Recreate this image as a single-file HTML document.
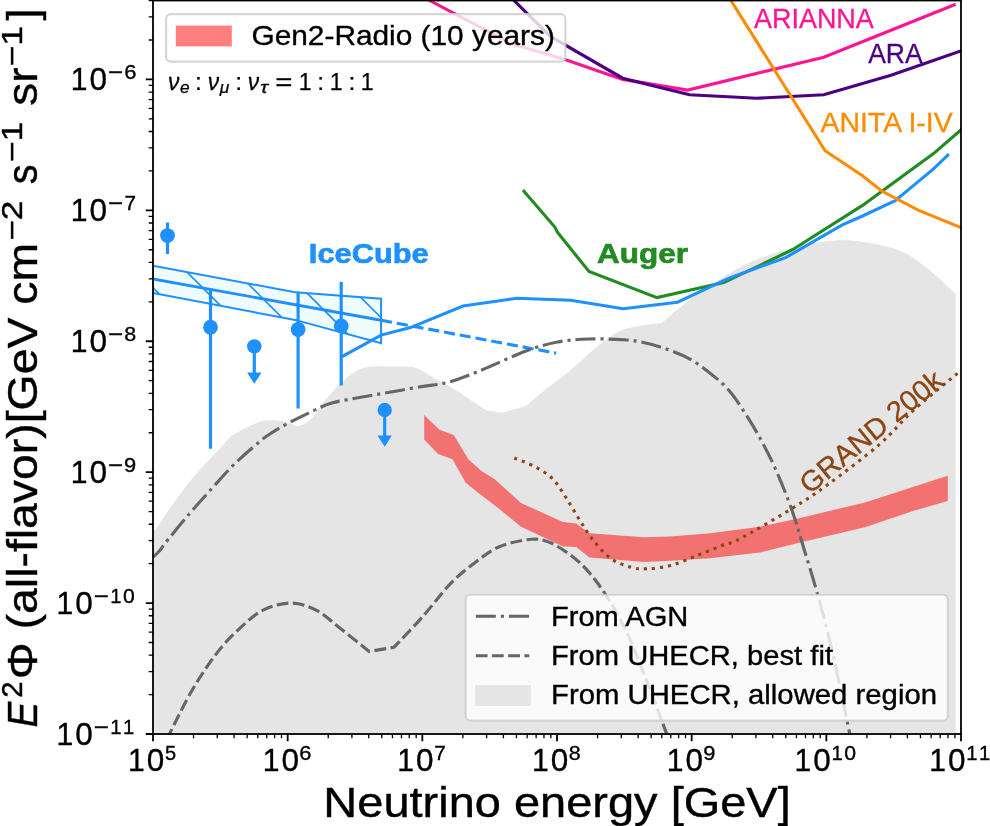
<!DOCTYPE html><html><head><meta charset="utf-8"><style>html,body{margin:0;padding:0;background:#fff;}svg{display:block;will-change:transform;} svg text{font-family:"Liberation Sans",sans-serif;}</style></head><body>
<svg width="990" height="826" viewBox="0 0 990 826" font-family="Liberation Sans, sans-serif">
<rect width="990" height="826" fill="#fff"/>
<defs><clipPath id="ax"><rect x="153.0" y="0.5" width="808.0" height="733.5"/></clipPath></defs>
<g clip-path="url(#ax)">
<path d="M153.0,533.0C154.6,530.8 159.2,524.1 162.4,519.5C165.6,514.9 166.9,512.5 172.2,505.3C177.5,498.1 186.4,485.4 194.0,476.3C201.6,467.2 210.9,457.9 217.6,450.9C224.3,443.9 227.0,439.4 234.0,434.5C241.0,429.6 253.2,424.2 259.4,421.8C265.6,419.4 267.0,420.4 271.0,420.3C275.0,420.2 278.8,420.5 283.3,421.5C287.8,422.5 295.7,425.7 298.2,426.5C300.3,425.2 306.4,423.5 311.0,419.0C315.6,414.5 319.5,406.7 325.8,399.5C332.1,392.3 341.9,381.4 349.0,376.0C356.1,370.6 359.9,368.7 368.2,367.1C376.4,365.5 390.6,366.5 398.5,366.6C406.4,366.8 410.3,366.4 415.8,368.0C421.3,369.6 425.4,373.1 431.5,376.5C437.6,379.9 443.3,382.6 452.5,388.3C461.7,394.0 481.0,406.9 486.7,410.6C489.3,411.0 499.8,412.4 502.4,412.7C506.3,411.6 522.1,407.2 526.0,406.1C529.5,403.1 539.5,394.3 547.0,388.3C554.5,382.3 562.8,376.5 570.7,369.9C578.6,363.3 586.4,355.2 594.3,348.9C602.2,342.6 611.0,335.7 618.0,332.0C625.0,328.3 631.0,327.9 636.3,326.6C641.6,325.4 645.7,325.1 650.0,324.5C654.3,323.9 660.0,323.1 662.0,322.8C665.7,319.6 674.8,311.0 684.3,303.9C693.8,296.8 707.2,287.0 718.7,279.9C730.2,272.8 740.4,266.4 753.0,261.0C765.6,255.6 781.6,250.6 794.2,247.3C806.8,244.0 818.3,242.1 828.6,241.1C838.9,240.1 844.5,239.7 856.0,241.1C867.5,242.5 885.8,245.5 897.3,249.7C908.8,253.9 915.0,258.9 924.7,266.2C934.4,273.5 950.5,289.0 955.6,293.6L955.6,740L150,740L150,534Z" fill="#e5e5e5"/>
<clipPath id="bandclip"><polygon points="153.0,265.8 295.0,292.2 381.1,298.8 381.1,343.1 295.0,319.9 153.0,293.1"/></clipPath>
<polygon points="153.0,265.8 295.0,292.2 381.1,298.8 381.1,343.1 295.0,319.9 153.0,293.1" fill="#effdff" stroke="none"/>
<path d="M65.8,250L175.8,360 M115.3,250L225.3,360 M164.9,250L274.9,360 M214.4,250L324.4,360 M263.9,250L373.9,360 M313.4,250L423.4,360 M362.9,250L472.9,360" stroke="#1e90ff" stroke-width="1.7" fill="none" clip-path="url(#bandclip)"/>
<polygon points="153.0,265.8 295.0,292.2 381.1,298.8 381.1,343.1 295.0,319.9 153.0,293.1" fill="none" stroke="#1e90ff" stroke-width="2" stroke-linejoin="miter"/>
<polyline points="150.0,278.5 381.1,320.2" fill="none" stroke="#1e90ff" stroke-width="2.9"/>
<polyline points="381.1,320.2 556.2,353.2" fill="none" stroke="#1e90ff" stroke-width="3.1" stroke-dasharray="11.1,4.9"/>
<polygon points="424.2,415.1 439.4,429.8 453.8,435.0 468.3,459.2 481.4,471.0 494.5,478.9 521.0,503.0 563.0,521.9 576.2,523.5 589.3,533.2 644.4,537.2 670.7,536.6 710.0,533.2 760.0,526.7 798.1,518.4 865.0,502.4 914.4,486.5 947.8,475.7 947.8,501.0 914.4,510.6 865.0,527.2 798.1,543.1 760.0,552.4 710.0,558.2 670.7,560.8 644.4,562.1 589.3,557.6 576.2,547.1 563.0,546.4 521.0,526.7 500.0,509.6 478.8,493.3 465.7,482.8 452.5,459.2 438.0,453.9 424.2,439.5" fill="#ff0000" fill-opacity="0.5"/>
<path d="M150.0,560.3C150.5,559.8 151.6,558.7 153.2,557.1C154.8,555.5 156.9,553.7 159.5,550.7C162.1,547.7 163.4,545.2 168.6,538.9C173.8,532.5 183.1,521.1 190.4,512.6C197.7,504.1 204.9,496.1 212.2,488.1C219.5,480.1 226.1,472.2 234.0,464.5C241.9,456.8 253.2,447.0 259.4,441.8C265.6,436.6 266.5,436.2 271.0,433.3C275.5,430.4 279.3,428.0 286.4,424.2C293.5,420.4 306.0,414.1 313.6,410.6C321.2,407.1 323.7,405.3 331.8,403.0C339.9,400.7 351.9,398.9 362.0,397.0C372.1,395.1 382.3,393.6 392.4,391.8C402.5,390.0 413.5,387.9 422.7,386.4C431.9,384.8 437.9,385.0 447.3,382.5C456.7,380.0 465.7,376.4 478.8,371.2C491.9,365.9 512.9,355.9 526.0,351.0C539.1,346.1 547.1,344.0 557.6,342.0C568.1,340.0 578.1,339.4 589.0,339.0C599.9,338.6 614.7,339.2 623.2,339.7C631.7,340.2 633.2,340.4 640.0,341.8C646.8,343.2 655.8,345.4 664.2,348.3C672.6,351.2 681.7,354.3 690.5,359.4C699.3,364.4 710.1,373.1 716.8,378.6C723.5,384.2 726.9,388.0 730.9,392.7C734.9,397.4 736.6,400.2 741.0,406.9C745.4,413.6 751.6,423.0 757.2,433.1C762.9,443.2 769.0,454.6 774.9,467.6C780.8,480.6 787.4,497.6 792.3,511.2C797.1,524.8 800.0,535.8 804.0,549.0C808.0,562.2 811.8,573.8 816.4,590.3C821.0,606.8 825.7,622.9 831.5,647.9C837.3,672.9 847.8,724.6 851.0,740.0" fill="none" stroke="#666" stroke-width="3.14" stroke-dasharray="20.1,4.95,3.14,4.95" stroke-linejoin="round"/>
<path d="M167.0,738.0C167.4,737.3 165.2,742.0 169.4,734.0C173.6,726.0 184.4,703.3 192.4,689.7C200.4,676.1 209.5,662.6 217.2,652.6C224.9,642.6 230.8,636.7 238.4,629.6C246.1,622.5 254.3,614.5 263.1,610.1C271.9,605.7 282.6,603.1 291.4,603.1C300.2,603.1 308.5,606.3 316.1,610.1C323.8,613.9 328.5,619.1 337.3,626.0C346.1,632.9 363.9,647.2 369.2,651.5C373.3,650.8 389.8,648.0 393.9,647.3C398.6,642.3 412.8,627.8 422.2,617.2C431.6,606.6 441.7,592.7 450.5,583.6C459.3,574.5 466.9,568.6 475.2,562.4C483.4,556.2 490.6,550.4 500.0,546.5C509.4,542.6 522.8,539.8 531.5,539.3C540.2,538.8 544.4,539.8 552.5,543.7C560.6,547.7 571.7,555.3 580.0,563.0C588.3,570.7 594.9,578.9 602.5,590.0C610.1,601.1 618.1,614.5 625.5,629.7C632.9,644.9 639.5,662.8 646.7,681.2C654.0,699.6 665.3,730.2 669.0,740.0" fill="none" stroke="#666" stroke-width="3.14" stroke-dasharray="11.8,4.4" stroke-linejoin="round"/>
<path d="M514.3,458.0C517.6,459.4 527.8,462.9 534.1,466.3C540.5,469.7 547.1,473.4 552.4,478.5C557.6,483.6 561.2,490.3 565.6,497.0C570.0,503.7 574.3,511.6 578.7,518.5C583.1,525.4 586.6,531.9 591.9,538.5C597.2,545.1 603.7,553.4 610.3,558.2C616.9,563.0 625.2,565.6 631.3,567.4C637.4,569.1 640.5,569.0 647.1,568.7C653.7,568.4 662.4,567.7 670.7,565.5C679.0,563.3 688.2,558.9 697.0,555.5C705.8,552.1 716.0,547.8 723.2,545.0C730.4,542.2 728.5,544.9 740.0,538.8C751.5,532.7 777.8,517.3 792.3,508.3C806.8,499.3 812.7,495.7 827.2,485.0C841.7,474.3 865.0,456.9 879.5,444.3C894.0,431.7 900.8,421.7 914.4,409.4C928.0,397.1 953.2,377.0 961.0,370.5" fill="none" stroke="#8b4513" stroke-width="3.1" stroke-dasharray="3.1,5.0"/>
<polyline points="522.9,190.0 555.0,227.3 557.6,232.5 589.0,271.4 657.0,297.6 723.8,282.6 792.5,249.7 862.5,205.4 933.5,153.6 962.0,129.0" fill="none" stroke="#228b22" stroke-width="3.1"/>
<polyline points="341.1,357.2 381.1,335.1 410.5,327.6 463.0,306.0 516.9,298.2 570.7,300.3 623.2,308.7 677.5,302.2 729.0,278.2 785.6,257.6 842.3,224.9 862.5,216.0 895.2,200.6 933.5,168.9 948.9,154.2" fill="none" stroke="#1e90ff" stroke-width="3.1"/>
<polyline points="426.8,-1.0 511.5,43.7 565.0,59.5 622.7,79.4 687.7,90.1 823.8,57.3 955.7,4.2" fill="none" stroke="#ff1493" stroke-width="3.1"/>
<polyline points="512.5,-1.0 550.3,36.4 622.7,78.2 689.5,94.7 756.6,98.3 823.8,94.7 891.0,75.3 962.0,50.6" fill="none" stroke="#4b0082" stroke-width="3.1"/>
<polyline points="730.0,-1.0 825.1,150.7 862.5,175.7 881.7,191.0 918.2,210.2 962.0,228.0" fill="none" stroke="#ff8c00" stroke-width="3.1"/>
<line x1="167.5" y1="222.4" x2="167.5" y2="253.9" stroke="#1e90ff" stroke-width="3.2"/>
<circle cx="167.5" cy="235.6" r="7.4" fill="#1e90ff"/>
<line x1="210.5" y1="290.3" x2="210.5" y2="448.8" stroke="#1e90ff" stroke-width="3.2"/>
<circle cx="210.5" cy="327.2" r="7.4" fill="#1e90ff"/>
<line x1="298.1" y1="291.6" x2="298.1" y2="408.5" stroke="#1e90ff" stroke-width="3.2"/>
<circle cx="298.1" cy="329.5" r="7.4" fill="#1e90ff"/>
<line x1="341.2" y1="282" x2="341.2" y2="385.6" stroke="#1e90ff" stroke-width="3.2"/>
<circle cx="341.2" cy="325.9" r="7.4" fill="#1e90ff"/>
<line x1="254.3" y1="346.4" x2="254.3" y2="375.7" stroke="#1e90ff" stroke-width="3.2"/>
<circle cx="254.3" cy="346.4" r="7.2" fill="#1e90ff"/>
<polygon points="247.10000000000002,372.4 261.5,372.4 254.3,383.7" fill="#1e90ff"/>
<line x1="384.7" y1="410" x2="384.7" y2="438.7" stroke="#1e90ff" stroke-width="3.2"/>
<circle cx="384.7" cy="410" r="7.2" fill="#1e90ff"/>
<polygon points="377.5,435.4 391.9,435.4 384.7,446.7" fill="#1e90ff"/>
</g>
<rect x="166.1" y="14.1" width="399.3" height="47.5" rx="4.5" fill="#fff" fill-opacity="0.8" stroke="#cccccc" stroke-opacity="0.8" stroke-width="2.1"/>
<rect x="175.8" y="25.6" width="56" height="20.8" fill="#ff0000" fill-opacity="0.5"/>
<rect x="465.7" y="594.7" width="482.1" height="125.9" rx="4.5" fill="#fff" fill-opacity="0.8" stroke="#cccccc" stroke-opacity="0.8" stroke-width="2.1"/>
<line x1="475.8" y1="616.3" x2="529.3" y2="616.3" stroke="#666" stroke-width="3.14" stroke-dasharray="20.1,4.95,3.14,4.95"/>
<line x1="475.8" y1="655.7" x2="529.3" y2="655.7" stroke="#666" stroke-width="3.14" stroke-dasharray="11.8,4.4"/>
<rect x="475.2" y="685.2" width="55.6" height="20.8" fill="#e5e5e5"/>
<path d="M153.00,734.0V741.2M287.67,734.0V741.2M422.33,734.0V741.2M557.00,734.0V741.2M691.67,734.0V741.2M826.33,734.0V741.2M961.00,734.0V741.2M153.0,734.00H145.8M153.0,603.08H145.8M153.0,472.16H145.8M153.0,341.24H145.8M153.0,210.32H145.8M153.0,79.40H145.8" stroke="#000" stroke-width="1.8"/>
<path d="M193.54,734.0V738.3M217.25,734.0V738.3M234.08,734.0V738.3M247.13,734.0V738.3M257.79,734.0V738.3M266.81,734.0V738.3M274.62,734.0V738.3M281.50,734.0V738.3M328.21,734.0V738.3M351.92,734.0V738.3M368.74,734.0V738.3M381.79,734.0V738.3M392.46,734.0V738.3M401.47,734.0V738.3M409.28,734.0V738.3M416.17,734.0V738.3M462.87,734.0V738.3M486.59,734.0V738.3M503.41,734.0V738.3M516.46,734.0V738.3M527.12,734.0V738.3M536.14,734.0V738.3M543.95,734.0V738.3M550.84,734.0V738.3M597.54,734.0V738.3M621.25,734.0V738.3M638.08,734.0V738.3M651.13,734.0V738.3M661.79,734.0V738.3M670.81,734.0V738.3M678.62,734.0V738.3M685.50,734.0V738.3M732.21,734.0V738.3M755.92,734.0V738.3M772.74,734.0V738.3M785.79,734.0V738.3M796.46,734.0V738.3M805.47,734.0V738.3M813.28,734.0V738.3M820.17,734.0V738.3M866.87,734.0V738.3M890.59,734.0V738.3M907.41,734.0V738.3M920.46,734.0V738.3M931.12,734.0V738.3M940.14,734.0V738.3M947.95,734.0V738.3M954.84,734.0V738.3M153.0,694.59H148.7M153.0,671.54H148.7M153.0,655.18H148.7M153.0,642.49H148.7M153.0,632.12H148.7M153.0,623.36H148.7M153.0,615.77H148.7M153.0,609.07H148.7M153.0,563.67H148.7M153.0,540.62H148.7M153.0,524.26H148.7M153.0,511.57H148.7M153.0,501.20H148.7M153.0,492.44H148.7M153.0,484.85H148.7M153.0,478.15H148.7M153.0,432.75H148.7M153.0,409.70H148.7M153.0,393.34H148.7M153.0,380.65H148.7M153.0,370.28H148.7M153.0,361.52H148.7M153.0,353.93H148.7M153.0,347.23H148.7M153.0,301.83H148.7M153.0,278.78H148.7M153.0,262.42H148.7M153.0,249.73H148.7M153.0,239.36H148.7M153.0,230.60H148.7M153.0,223.01H148.7M153.0,216.31H148.7M153.0,170.91H148.7M153.0,147.86H148.7M153.0,131.50H148.7M153.0,118.81H148.7M153.0,108.44H148.7M153.0,99.68H148.7M153.0,92.09H148.7M153.0,85.39H148.7M153.0,39.99H148.7M153.0,16.94H148.7M153.0,0.58H148.7" stroke="#000" stroke-width="1.3"/>
<rect x="153.0" y="0.5" width="808.0" height="733.5" fill="none" stroke="#000" stroke-width="1.8"/>
<text transform="translate(128.02,770.70) scale(0.9767,1)" font-size="30.82" fill="#000" stroke="#000" stroke-width="0.35">1</text>
<text transform="translate(146.76,770.70) scale(1.0226,1)" font-size="30.82" fill="#000" stroke="#000" stroke-width="0.35">0</text>
<text transform="translate(165.04,759.90) scale(0.9651,1)" font-size="20.71" fill="#000" stroke="#000" stroke-width="0.35">5</text>
<text transform="translate(262.69,770.70) scale(0.9767,1)" font-size="30.82" fill="#000" stroke="#000" stroke-width="0.35">1</text>
<text transform="translate(281.42,770.70) scale(1.0226,1)" font-size="30.82" fill="#000" stroke="#000" stroke-width="0.35">0</text>
<text transform="translate(299.25,759.90) scale(1.0584,1)" font-size="20.71" fill="#000" stroke="#000" stroke-width="0.35">6</text>
<text transform="translate(397.36,770.70) scale(0.9767,1)" font-size="30.82" fill="#000" stroke="#000" stroke-width="0.35">1</text>
<text transform="translate(416.09,770.70) scale(1.0226,1)" font-size="30.82" fill="#000" stroke="#000" stroke-width="0.35">0</text>
<text x="434.21" y="759.90" font-size="20.71" fill="#000" stroke="#000" stroke-width="0.35">7</text>
<text transform="translate(532.02,770.70) scale(0.9767,1)" font-size="30.82" fill="#000" stroke="#000" stroke-width="0.35">1</text>
<text transform="translate(550.76,770.70) scale(1.0226,1)" font-size="30.82" fill="#000" stroke="#000" stroke-width="0.35">0</text>
<text transform="translate(568.73,759.90) scale(1.0337,1)" font-size="20.71" fill="#000" stroke="#000" stroke-width="0.35">8</text>
<text transform="translate(666.69,770.70) scale(0.9767,1)" font-size="30.82" fill="#000" stroke="#000" stroke-width="0.35">1</text>
<text transform="translate(685.42,770.70) scale(1.0226,1)" font-size="30.82" fill="#000" stroke="#000" stroke-width="0.35">0</text>
<text transform="translate(703.20,759.90) scale(1.0562,1)" font-size="20.71" fill="#000" stroke="#000" stroke-width="0.35">9</text>
<text transform="translate(794.61,770.70) scale(0.9767,1)" font-size="30.82" fill="#000" stroke="#000" stroke-width="0.35">1</text>
<text transform="translate(813.34,770.70) scale(1.0226,1)" font-size="30.82" fill="#000" stroke="#000" stroke-width="0.35">0</text>
<text transform="translate(831.55,759.90) scale(0.9767,1)" font-size="20.71" fill="#000" stroke="#000" stroke-width="0.35">1</text>
<text transform="translate(844.13,759.90) scale(1.0226,1)" font-size="20.71" fill="#000" stroke="#000" stroke-width="0.35">0</text>
<text transform="translate(929.28,770.70) scale(0.9767,1)" font-size="30.82" fill="#000" stroke="#000" stroke-width="0.35">1</text>
<text transform="translate(948.01,770.70) scale(1.0226,1)" font-size="30.82" fill="#000" stroke="#000" stroke-width="0.35">0</text>
<text transform="translate(966.21,759.90) scale(0.9767,1)" font-size="20.71" fill="#000" stroke="#000" stroke-width="0.35">1</text>
<text transform="translate(978.97,759.90) scale(0.9767,1)" font-size="20.71" fill="#000" stroke="#000" stroke-width="0.35">1</text>
<text transform="translate(56.61,744.60) scale(0.9767,1)" font-size="30.82" fill="#000" stroke="#000" stroke-width="0.35">1</text>
<text transform="translate(75.34,744.60) scale(1.0226,1)" font-size="30.82" fill="#000" stroke="#000" stroke-width="0.35">0</text>
<text transform="translate(93.73,733.80) scale(1.2499,1)" font-size="20.71" fill="#000" stroke="#000" stroke-width="0.35">−</text>
<text transform="translate(110.35,733.80) scale(0.9767,1)" font-size="20.71" fill="#000" stroke="#000" stroke-width="0.35">1</text>
<text transform="translate(123.11,733.80) scale(0.9767,1)" font-size="20.71" fill="#000" stroke="#000" stroke-width="0.35">1</text>
<text transform="translate(56.61,613.68) scale(0.9767,1)" font-size="30.82" fill="#000" stroke="#000" stroke-width="0.35">1</text>
<text transform="translate(75.34,613.68) scale(1.0226,1)" font-size="30.82" fill="#000" stroke="#000" stroke-width="0.35">0</text>
<text transform="translate(93.73,602.88) scale(1.2499,1)" font-size="20.71" fill="#000" stroke="#000" stroke-width="0.35">−</text>
<text transform="translate(110.35,602.88) scale(0.9767,1)" font-size="20.71" fill="#000" stroke="#000" stroke-width="0.35">1</text>
<text transform="translate(122.94,602.88) scale(1.0226,1)" font-size="20.71" fill="#000" stroke="#000" stroke-width="0.35">0</text>
<text transform="translate(70.81,482.76) scale(0.9767,1)" font-size="30.82" fill="#000" stroke="#000" stroke-width="0.35">1</text>
<text transform="translate(89.54,482.76) scale(1.0226,1)" font-size="30.82" fill="#000" stroke="#000" stroke-width="0.35">0</text>
<text transform="translate(107.93,471.96) scale(1.2499,1)" font-size="20.71" fill="#000" stroke="#000" stroke-width="0.35">−</text>
<text transform="translate(124.12,471.96) scale(1.0562,1)" font-size="20.71" fill="#000" stroke="#000" stroke-width="0.35">9</text>
<text transform="translate(70.81,351.84) scale(0.9767,1)" font-size="30.82" fill="#000" stroke="#000" stroke-width="0.35">1</text>
<text transform="translate(89.54,351.84) scale(1.0226,1)" font-size="30.82" fill="#000" stroke="#000" stroke-width="0.35">0</text>
<text transform="translate(107.93,341.04) scale(1.2499,1)" font-size="20.71" fill="#000" stroke="#000" stroke-width="0.35">−</text>
<text transform="translate(124.31,341.04) scale(1.0337,1)" font-size="20.71" fill="#000" stroke="#000" stroke-width="0.35">8</text>
<text transform="translate(70.81,220.92) scale(0.9767,1)" font-size="30.82" fill="#000" stroke="#000" stroke-width="0.35">1</text>
<text transform="translate(89.54,220.92) scale(1.0226,1)" font-size="30.82" fill="#000" stroke="#000" stroke-width="0.35">0</text>
<text transform="translate(107.93,210.12) scale(1.2499,1)" font-size="20.71" fill="#000" stroke="#000" stroke-width="0.35">−</text>
<text x="124.47" y="210.12" font-size="20.71" fill="#000" stroke="#000" stroke-width="0.35">7</text>
<text transform="translate(70.81,90.00) scale(0.9767,1)" font-size="30.82" fill="#000" stroke="#000" stroke-width="0.35">1</text>
<text transform="translate(89.54,90.00) scale(1.0226,1)" font-size="30.82" fill="#000" stroke="#000" stroke-width="0.35">0</text>
<text transform="translate(107.93,79.20) scale(1.2499,1)" font-size="20.71" fill="#000" stroke="#000" stroke-width="0.35">−</text>
<text transform="translate(124.17,79.20) scale(1.0584,1)" font-size="20.71" fill="#000" stroke="#000" stroke-width="0.35">6</text>
<text x="323.35" y="816.70" font-size="41.79" fill="#000" textLength="467.40" lengthAdjust="spacingAndGlyphs" stroke="#000" stroke-width="0.4">Neutrino energy [GeV]</text>
<g transform="translate(37.3,726.3) rotate(-90)"><text transform="translate(-1.19,0.00) scale(0.9234,1)" font-size="41.79" font-style="italic" fill="#000" stroke="#000" stroke-width="0.4">E</text>
<text x="28.51" y="-15.31" font-size="29.25" fill="#000" stroke="#000" stroke-width="0.4">2</text>
<text x="47.05" y="0.00" font-size="41.79" fill="#000" textLength="436.31" lengthAdjust="spacingAndGlyphs" stroke="#000" stroke-width="0.4">Φ (all-flavor)[GeV cm</text>
<text x="485.48" y="-15.31" font-size="29.25" fill="#000" textLength="40.14" lengthAdjust="spacingAndGlyphs" stroke="#000" stroke-width="0.4">−2</text>
<text transform="translate(542.11,0.00) scale(0.9474,1)" font-size="41.79" fill="#000" stroke="#000" stroke-width="0.4">s</text>
<text x="564.18" y="-15.31" font-size="29.25" fill="#000" textLength="40.33" lengthAdjust="spacingAndGlyphs" stroke="#000" stroke-width="0.4">−1</text>
<text x="620.64" y="0.00" font-size="41.79" fill="#000" textLength="38.28" lengthAdjust="spacingAndGlyphs" stroke="#000" stroke-width="0.4">sr</text>
<text x="659.85" y="-15.31" font-size="29.25" fill="#000" textLength="40.33" lengthAdjust="spacingAndGlyphs" stroke="#000" stroke-width="0.4">−1</text>
<text transform="translate(705.91,0.00) scale(1.0297,1)" font-size="41.79" fill="#000" stroke="#000" stroke-width="0.4">]</text></g>
<text x="251.50" y="45.40" font-size="27.51" fill="#000" textLength="303.35" lengthAdjust="spacingAndGlyphs" stroke="#000" stroke-width="0.35">Gen2-Radio (10 years)</text>
<text transform="translate(168.00,89.80) scale(0.9854,1)" font-size="23.10" font-style="italic" fill="#000" stroke="#000" stroke-width="0.25">ν</text>
<text transform="translate(179.96,93.41) scale(1.0680,1)" font-size="16.17" font-style="italic" fill="#000" stroke="#000" stroke-width="0.25">e</text>
<text transform="translate(195.12,89.80) scale(1.0686,1)" font-size="23.10" fill="#000" stroke="#000" stroke-width="0.25">:</text>
<text transform="translate(207.77,89.80) scale(0.9854,1)" font-size="23.10" font-style="italic" fill="#000" stroke="#000" stroke-width="0.25">ν</text>
<text transform="translate(219.73,93.41) scale(1.0809,1)" font-size="16.17" font-style="italic" fill="#000" stroke="#000" stroke-width="0.25">μ</text>
<text transform="translate(235.22,89.80) scale(1.0686,1)" font-size="23.10" fill="#000" stroke="#000" stroke-width="0.25">:</text>
<text transform="translate(247.87,89.80) scale(0.9854,1)" font-size="23.10" font-style="italic" fill="#000" stroke="#000" stroke-width="0.25">ν</text>
<text transform="translate(260.25,93.41) scale(1.3000,1)" font-size="16.17" font-style="italic" fill="#000" stroke="#000" stroke-width="0.25">τ</text>
<text transform="translate(275.34,89.80) scale(1.2724,1)" font-size="23.10" fill="#000" stroke="#000" stroke-width="0.25">=</text>
<text x="298.67" y="89.80" font-size="23.10" fill="#000" stroke="#000" stroke-width="0.25">1</text>
<text transform="translate(317.29,89.80) scale(1.0686,1)" font-size="23.10" fill="#000" stroke="#000" stroke-width="0.25">:</text>
<text x="329.76" y="89.80" font-size="23.10" fill="#000" stroke="#000" stroke-width="0.25">1</text>
<text transform="translate(348.38,89.80) scale(1.0686,1)" font-size="23.10" fill="#000" stroke="#000" stroke-width="0.25">:</text>
<text x="360.85" y="89.80" font-size="23.10" fill="#000" stroke="#000" stroke-width="0.25">1</text>
<text x="551.02" y="625.50" font-size="27.51" fill="#000" textLength="137.25" lengthAdjust="spacingAndGlyphs" stroke="#000" stroke-width="0.35">From AGN</text>
<text x="551.01" y="664.80" font-size="27.51" fill="#000" textLength="282.01" lengthAdjust="spacingAndGlyphs" stroke="#000" stroke-width="0.35">From UHECR, best fit</text>
<text x="551.00" y="704.20" font-size="27.51" fill="#000" textLength="386.01" lengthAdjust="spacingAndGlyphs" stroke="#000" stroke-width="0.35">From UHECR, allowed region</text>
<text x="753.95" y="27.60" font-size="28.35" fill="#ff1493" textLength="119.91" lengthAdjust="spacingAndGlyphs" stroke="#ff1493" stroke-width="0.3">ARIANNA</text>
<text x="868.15" y="62.60" font-size="28.35" fill="#4b0082" textLength="54.50" lengthAdjust="spacingAndGlyphs" stroke="#4b0082" stroke-width="0.3">ARA</text>
<text x="820.44" y="131.90" font-size="28.35" fill="#ff8c00" textLength="132.28" lengthAdjust="spacingAndGlyphs" stroke="#ff8c00" stroke-width="0.3">ANITA I-IV</text>
<text x="308.84" y="262.70" font-size="28.14" font-weight="bold" fill="#1e90ff" textLength="119.92" lengthAdjust="spacingAndGlyphs" stroke="#1e90ff" stroke-width="0.7">IceCube</text>
<text x="597.12" y="262.80" font-size="28.14" font-weight="bold" fill="#228b22" textLength="90.86" lengthAdjust="spacingAndGlyphs" stroke="#228b22" stroke-width="0.7">Auger</text>
<g transform="translate(810.5,494) rotate(-39.3)"><text x="-1.46" y="0.00" font-size="28.67" fill="#8b4513" textLength="175.53" lengthAdjust="spacingAndGlyphs" stroke="#8b4513" stroke-width="0.3">GRAND 200k</text></g>
</svg>
</body></html>
